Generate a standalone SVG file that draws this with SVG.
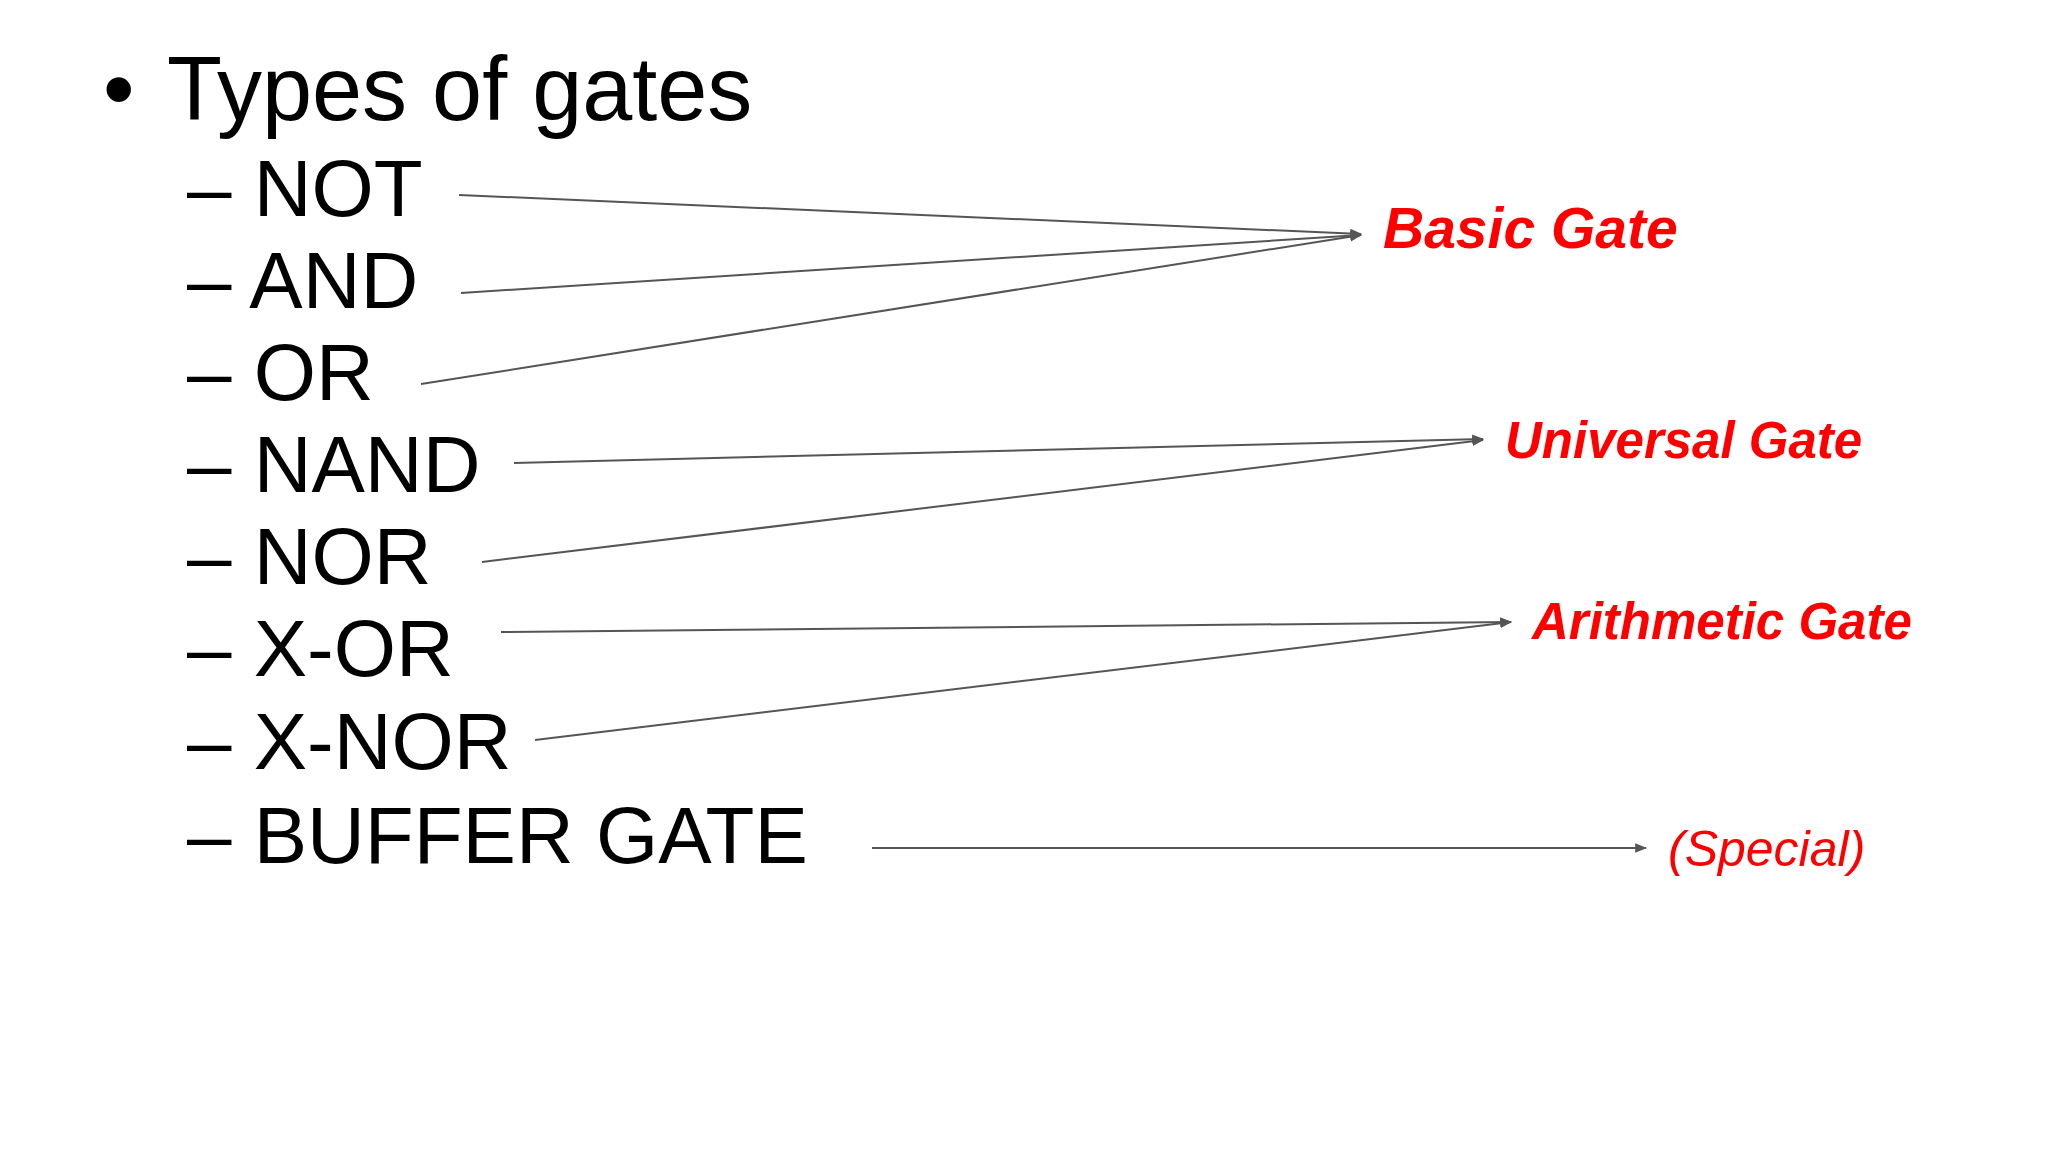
<svg xmlns="http://www.w3.org/2000/svg" width="2048" height="1152" viewBox="0 0 2048 1152">
<style>
.t{font-family:"Liberation Sans",Arial,sans-serif;fill:#000}
.r{font-family:"Liberation Sans",Arial,sans-serif;fill:#ff0000;font-style:italic}
.b{font-weight:bold}
.c{stroke:#555;stroke-width:2;fill:none;marker-end:url(#ah)}
</style>
<defs><marker id="ah" viewBox="0 0 10 10" refX="9" refY="5" markerWidth="6" markerHeight="6" orient="auto" markerUnits="strokeWidth"><path d="M0,1 L10,5 L0,9 z" fill="#555"/></marker></defs>
<rect width="2048" height="1152" fill="#fff"/>
<g id="title"><text class="t" x="103" y="120" font-size="90">•</text><text class="t" x="167" y="120" font-size="90">Types of gates</text></g>
<g id="items" class="t" font-size="80">
<g id="n-not"><text x="187" y="216">– NOT</text></g>
<g id="n-and"><text x="187" y="308">– AND</text></g>
<g id="n-or"><text x="187" y="400">– OR</text></g>
<g id="n-nand"><text x="187" y="492">– NAND</text></g>
<g id="n-nor"><text x="187" y="584">– NOR</text></g>
<g id="n-xor"><text x="187" y="676">– X-OR</text></g>
<g id="n-xnor"><text x="187" y="769">– X-NOR</text></g>
<g id="n-buf"><text x="187" y="863">– BUFFER GATE</text></g>
</g>
<g id="n-basic"><text class="r b" x="1383" y="248" font-size="57">Basic Gate</text></g>
<g id="n-univ"><text class="r b" x="1505" y="458" font-size="51">Universal Gate</text></g>
<g id="n-arith"><text class="r b" x="1532" y="639" font-size="51">Arithmetic Gate</text></g>
<g id="n-special"><text class="r" x="1668" y="866" font-size="50">(Special)</text></g>
<g id="connectors">
<line class="c" x1="459" y1="195" x2="1361" y2="234"/>
<line class="c" x1="461" y1="293" x2="1361" y2="235"/>
<line class="c" x1="421" y1="384" x2="1361" y2="235"/>
<line class="c" x1="514" y1="463" x2="1483" y2="439"/>
<line class="c" x1="482" y1="562" x2="1483" y2="440"/>
<line class="c" x1="501" y1="632" x2="1511" y2="622"/>
<line class="c" x1="535" y1="740" x2="1511" y2="622"/>
<line class="c" x1="872" y1="848" x2="1646" y2="848"/>
</g>
</svg>
